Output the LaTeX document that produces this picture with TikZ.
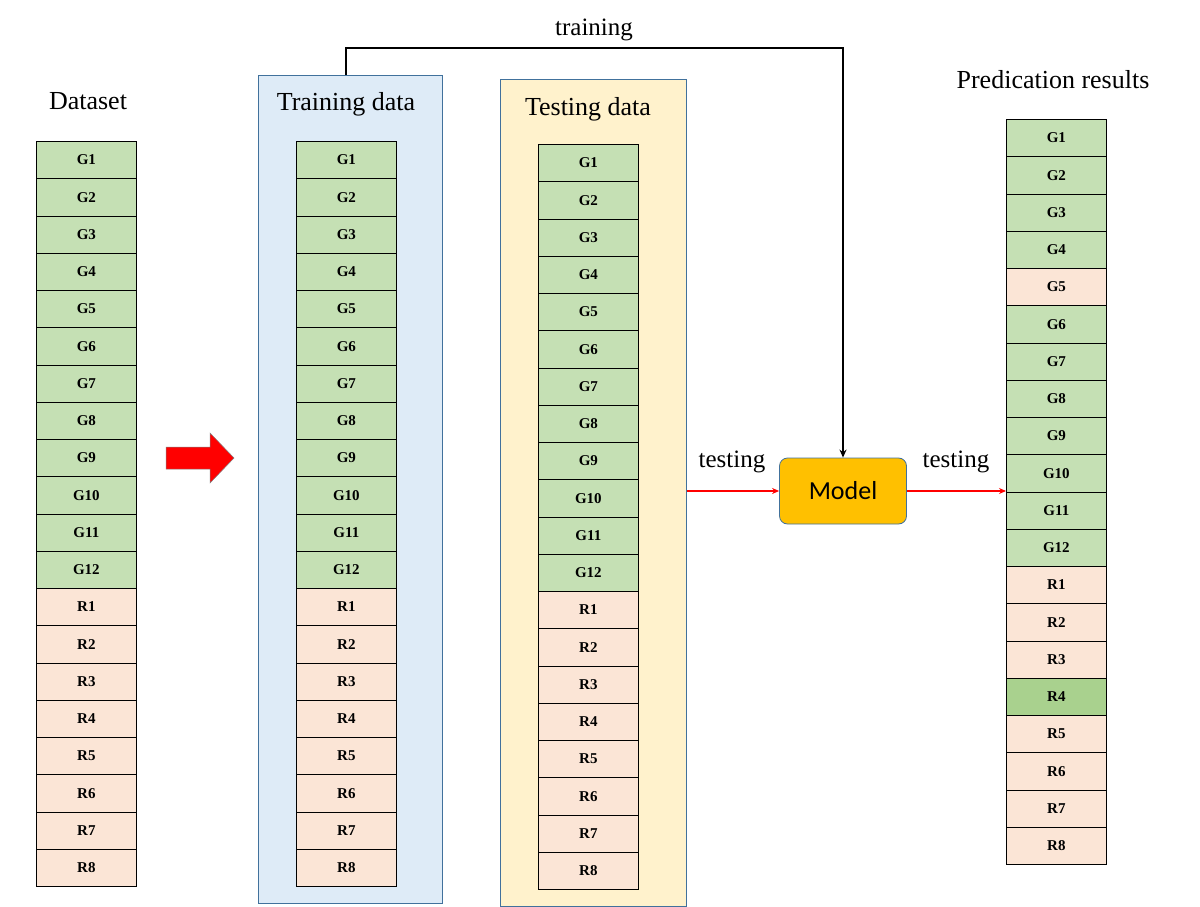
\documentclass[tikz,border=0pt]{standalone}
\usepackage{fontspec}
\setmainfont{Liberation Serif}
\newfontfamily\modelfont{Carlito}
\usetikzlibrary{arrows.meta}
\definecolor{gcell}{HTML}{C5E0B4}
\definecolor{rcell}{HTML}{FBE5D6}
\definecolor{gdark}{HTML}{A9D18E}
\definecolor{bluebg}{HTML}{DEEBF7}
\definecolor{bluebd}{HTML}{41719C}
\definecolor{yelbg}{HTML}{FFF2CC}
\definecolor{modelc}{HTML}{FFC000}
\begin{document}
\begin{tikzpicture}[x=1pt,y=-1pt,
  cell/.style={draw=black,line width=0.8pt,minimum width=100pt,minimum height=37.25pt,inner sep=0pt,font=\bfseries\fontsize{15}{15}\selectfont,anchor=north west},
  title/.style={font=\fontsize{26}{28}\selectfont},
  lab/.style={font=\fontsize{25}{26}\selectfont},
  redarr/.style={red,line width=1.3pt,-{Stealth[length=7pt,width=6pt]}}]
\useasboundingbox (0,0) rectangle (1200,907);
\node[draw=bluebd,fill=bluebg,line width=0.8pt,minimum width=184pt,minimum height=828pt,anchor=north west,inner sep=0pt] (trbox) at (258,75) {};
\node[draw=bluebd,fill=yelbg,line width=0.8pt,minimum width=186pt,minimum height=827pt,anchor=north west,inner sep=0pt] (tebox) at (500,79) {};
\newcommand\mycolumn[4]{% prefix, x, y, special
  \foreach \i in {1,...,20}{
    \ifnum\i<13 \def\lbl{G\i}\def\fc{gcell}\else
      \pgfmathtruncatemacro\r{\i-12}\edef\lbl{R\r}\def\fc{rcell}\fi
    \ifnum#4=1
      \ifnum\i=5 \def\fc{rcell}\fi
      \ifnum\i=16 \def\fc{gdark}\fi
    \fi
    \node[cell,fill=\fc] (#1\i) at (#2,{#3+(\i-1)*37.25}) {\lbl};
  }}
\mycolumn{d}{36}{141}{0}
\mycolumn{t}{296}{141}{0}
\mycolumn{s}{538}{144}{0}
\mycolumn{p}{1006}{119}{1}
\node[title] (dt) at (88,101) {Dataset};
\node[title] (tt) at (346,104) {Training data};
\node[title] (st) at (588,109) {Testing data};
\node[title] (pt) at (1053,80) {Predication results};
\fill[red,draw=black!50,line width=0.5pt] (166,447) -- (210,447) -- (210,433) -- (234,458) -- (210,483) -- (210,469) -- (166,469) -- cycle;
\node[draw=bluebd,fill=modelc,rounded corners=8pt,line width=0.8pt,minimum width=127pt,minimum height=66pt,font=\modelfont\fontsize{26}{28}\selectfont] (model) at (843,491) {Model};
\coordinate (c1) at (346,48);
\coordinate (c2) at (843,48);
\draw[line width=1.6pt,-{Stealth[length=8pt,width=7pt]}] (trbox.north -| c1) -- (c1) -- (c2) -- (model.north);
\node[lab] (trl) at (594,30) {training};
\draw[redarr] (tebox.east |- model.west) -- (model.west);
\draw[redarr] (model.east) -- (model.east -| p10.west);
\node[lab] (tl1) at (732,462) {testing};
\node[lab] (tl2) at (956,462) {testing};
\end{tikzpicture}
\end{document}
